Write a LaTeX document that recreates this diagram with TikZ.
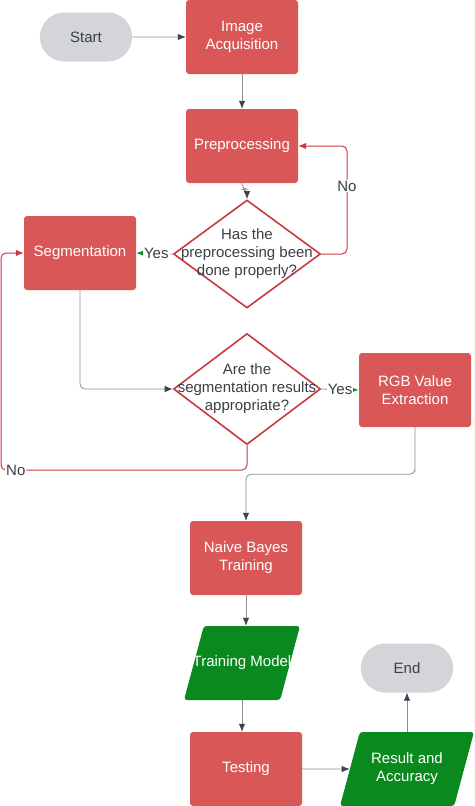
\documentclass[tikz,border=0pt]{standalone}
\usepackage{fontspec}
\setmainfont{Liberation Sans}
\usetikzlibrary{arrows.meta,shapes.geometric,shapes.misc,positioning}

\definecolor{boxred}{HTML}{D95757}
\definecolor{edgered}{HTML}{C73A40}
\definecolor{iogreen}{HTML}{0A8A1E}
\definecolor{pillgray}{HTML}{D3D5D9}
\definecolor{linegray}{HTML}{8C8C8C}
\definecolor{tipgray}{HTML}{3C4450}
\definecolor{txtgray}{HTML}{3A3F47}

\tikzset{
  procbox/.style={rectangle, rounded corners=3pt, fill=boxred, text=white, align=center,
    minimum width=112pt, minimum height=74pt, inner sep=0pt},
  pill/.style={rounded rectangle, fill=pillgray, text=txtgray, minimum width=99pt, minimum height=49pt},
  decision/.style={diamond, draw=edgered, line width=1.6pt, fill=white,
    minimum width=147pt, minimum height=108pt, inner sep=0pt},
  iobox/.style={trapezium, trapezium left angle=75, trapezium right angle=105,
    trapezium stretches body=true, fill=iogreen, rounded corners=3pt,
    minimum width=116pt, minimum height=74pt, inner sep=2pt},
  intext/.style={text=txtgray, align=center},
  iotext/.style={text=white, align=center},
  flow/.style={draw=linegray, line width=0.8pt, rounded corners=5pt,
    -{Latex[length=8pt,width=6.5pt,color=tipgray]}},
  yesflow/.style={draw=linegray, line width=0.8pt, -{Latex[length=7pt,width=5pt,color=iogreen]}},
  noflow/.style={draw=edgered, line width=1pt, rounded corners=5pt, -{Latex[length=8pt,width=6.5pt]}},
  answer/.style={fill=white, text=txtgray, inner sep=1pt},
}
\newcommand{\ioheight}{\rule{0pt}{70pt}}

\begin{document}
\begin{tikzpicture}[x=1pt, y=-1pt, font=\fontsize{15}{18}\selectfont]
  \useasboundingbox (0,0) rectangle (474,806);

  % Nodes
  \node[pill] (start) at (86,37) {Start};
  \node[procbox] (acq) at (242,37) {Image\\Acquisition};
  \node[procbox] (pre) at (242,146) {Preprocessing};
  \node[decision, label={[intext]center:Has the\\preprocessing been\\done properly?}] (d1) at (247,254) {};
  \node[procbox] (seg) at (80,253) {Segmentation};
  \node[decision, minimum height=111pt, label={[intext]center:Are the\\segmentation results\\appropriate?}] (d2) at (247,389) {};
  \node[procbox] (rgb) at (415,390) {RGB Value\\Extraction};
  \node[procbox] (nb) at (246,558) {Naive Bayes\\Training};
  \node[iobox, label={[iotext]center:Training Model}] (tm) at (242,663) {\ioheight};
  \node[procbox] (test) at (246,769) {Testing};
  \node[iobox, minimum width=134pt, label={[iotext]center:Result and\\Accuracy}] (res) at (407,769) {\ioheight};
  \node[pill] (end) at (407,668) {End};

  % Connectors
  \draw[flow] (start) -- (acq);
  \draw[flow] (acq) -- (pre);
  \draw[flow] (pre.south) -- ++(0,6) -| (d1.north);
  \coordinate (noturn) at (347,146);
  \draw[noflow] (d1.east) -| node[answer, pos=0.815] {No} (noturn) -- (pre.east);
  \draw[yesflow] (d1.west) -- node[answer, pos=0.45] {Yes} (seg.east);
  \draw[flow] (seg.south) |- (d2.west);
  \draw[yesflow] (d2.east) -- node[answer] {Yes} (rgb.west);
  \coordinate (noleft) at (1,470);
  \draw[noflow] (d2.south) |- node[answer, pos=0.97] {No} (noleft) |- (seg.west);
  \draw[flow] (rgb.south) |- ++(0,47) -| (nb.north);
  \draw[flow] (nb.south) -- (nb.south |- tm.north);
  \draw[flow] (tm.south) -- (tm.south |- test.north);
  \draw[flow] (test.east) -- (res.west);
  \draw[flow] (res.north -| end.south) -- (end.south);
\end{tikzpicture}
\end{document}
